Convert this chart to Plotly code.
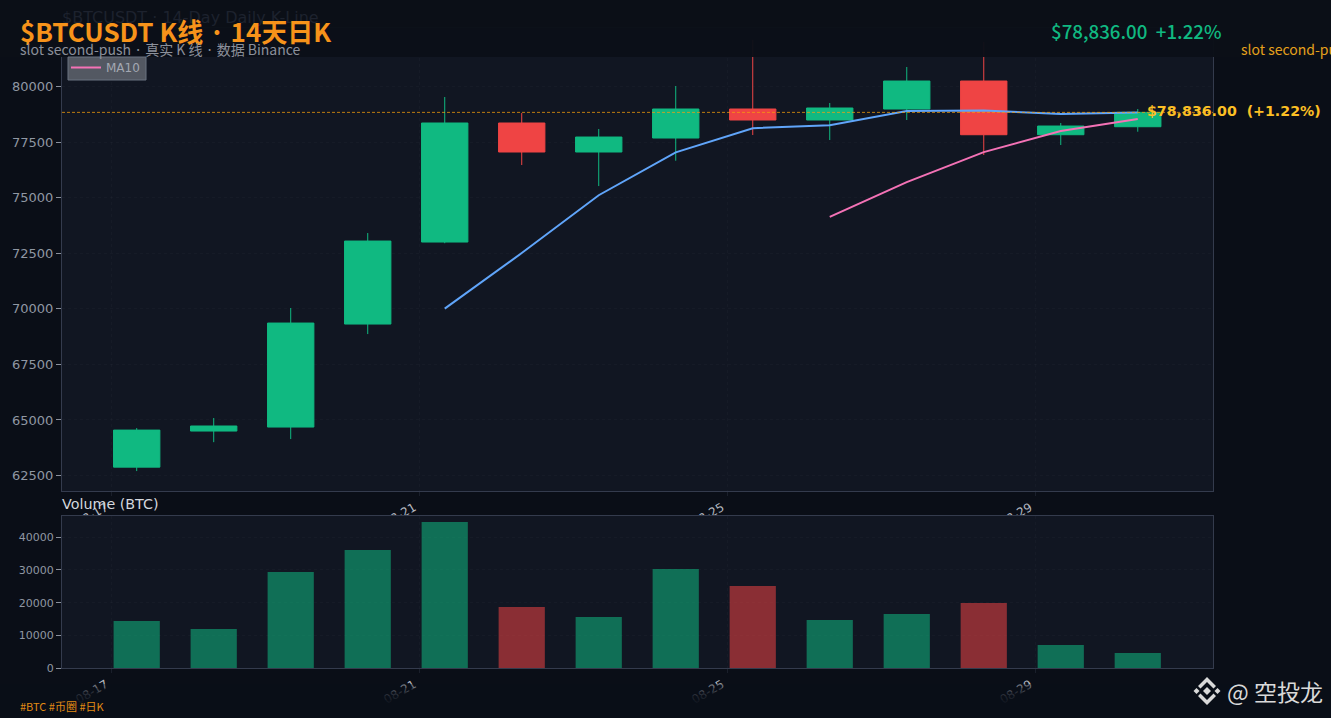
"""
BTCUSDT 14 day K line with MA5 / MA10 and a volume panel.
"""

import plotly.graph_objects as go
from plotly.subplots import make_subplots

dates = ['2025-08-17 08:00', '2025-08-18 08:00', '2025-08-19 08:00', '2025-08-20 08:00',
         '2025-08-21 08:00', '2025-08-22 08:00', '2025-08-23 08:00', '2025-08-24 08:00',
         '2025-08-25 08:00', '2025-08-26 08:00', '2025-08-27 08:00', '2025-08-28 08:00',
         '2025-08-29 08:00', '2025-08-30 08:00']
opens = [62877, 64500, 64680, 69313, 73003, 78358, 77053, 77682, 78988, 78493, 78988, 80247, 77831, 78191]
highs = [64633, 65087, 70035, 73408, 79527, 78807, 78088, 80022, 82100, 79258, 80877, 82000, 78358, 78988]
lows = [62700, 64000, 64140, 68863, 72950, 76468, 75522, 76661, 77818, 77593, 78493, 76918, 77368, 77966]
closes = [64543, 64727, 69358, 73048, 78358, 77053, 77727, 78988, 78493, 79033, 80247, 77831, 78222, 78836]
volumes = [14380, 11930, 29370, 36100, 44680, 18670, 15600, 30300, 25090, 14690, 16520, 19890, 7040, 4590]
ma5 = [None, None, None, None, 70006, 72508, 75109, 77035, 78124, 78259, 78898, 78918, 78765, 78834]
ma10 = [None, None, None, None, None, None, None, None, None, 74133, 75700, 77050, 78000, 78540]
last_price = 78836

price_ticks = [62500, 65000, 67500, 70000, 72500, 75000, 77500, 80000]
volume_ticks = [0, 10000, 20000, 30000, 40000]
date_ticks = ['2025-08-17', '2025-08-21', '2025-08-25', '2025-08-29']
date_labels = ['08-17', '08-21', '08-25', '08-29']
x_range = ['2025-08-16 08:43', '2025-08-31 07:27']
price_range = [61803, 82632]
volume_range = [0, 46670]

GREEN = '#10b981'
RED = '#ef4444'
ORANGE = '#f7931a'
GOLD = '#fbbf24'
BG = '#0a0e17'
PANEL = '#111622'
AXIS = '#343b4d'
GRID = 'rgba(255,255,255,0.022)'
TICK_TEXT = '#9097a3'
CJK = 'Noto Sans CJK JP'

W, H = 1331, 718
L, R, T, B = 62, 118, 28, 50
PW, PH = W - L - R, H - T - B


def px(x):
    return (x - L) / PW


def py(y):
    return 1 - (y - T) / PH


def note(x, y, text, color, size, family=CJK, weight=400):
    # annotations carry 2px of padding, take it off so x is where the glyphs start
    fig.add_annotation(xref='paper', yref='paper', x=px(x - 2), y=py(y), text=text, showarrow=False,
                       xanchor='left', yanchor='middle', align='left',
                       font=dict(color=color, size=size, family=family, weight=weight))


def polygon(points, cx, cy, flip=1):
    parts = [f'{px(cx + dx)} {py(cy + flip * dy)}' for dx, dy in points]
    return 'M ' + ' L '.join(parts) + ' Z'


fig = make_subplots(rows=2, cols=1)

fig.add_trace(go.Candlestick(x=dates, open=opens, high=highs, low=lows, close=closes,
                             increasing=dict(line=dict(color=GREEN, width=1), fillcolor=GREEN),
                             decreasing=dict(line=dict(color=RED, width=1), fillcolor=RED),
                             showlegend=False, name='K'), row=1, col=1)
fig.add_trace(go.Scatter(x=dates, y=ma5, mode='lines', name='MA5', showlegend=False,
                         line=dict(color='#60a5fa', width=2)), row=1, col=1)
fig.add_trace(go.Scatter(x=dates, y=ma10, mode='lines', name='MA10',
                         line=dict(color='#f472b6', width=2)), row=1, col=1)

bar_colors = ['rgba(16,185,129,0.55)' if c >= o else 'rgba(239,68,68,0.55)' for o, c in zip(opens, closes)]
fig.add_trace(go.Bar(x=dates, y=volumes, marker=dict(color=bar_colors, line=dict(width=0)),
                     width=0.6 * 86400000, showlegend=False, name='Volume'), row=2, col=1)

fig.update_layout(
    width=W, height=H, margin=dict(l=L, r=R, t=T, b=B),
    paper_bgcolor=BG, plot_bgcolor=PANEL, boxgap=0.14,
    font=dict(family='DejaVu Sans', color=TICK_TEXT),
    legend=dict(x=px(66), y=py(53), xanchor='left', yanchor='top', bgcolor='rgba(0,0,0,0)',
                borderwidth=0, font=dict(size=12, color='#a3a8b2')),
)
fig.update_xaxes(type='date', range=x_range, tickvals=date_ticks, ticktext=date_labels, tickangle=-30,
                 rangeslider_visible=False, showline=True, linecolor=AXIS, mirror=True,
                 gridcolor=GRID, griddash='dot', ticks='outside', ticklen=4, tickcolor='#1a1f2b',
                 ticklabelshift=-5, tickfont=dict(size=12, color='#b4b8c0'))
fig.update_yaxes(showline=True, linecolor=AXIS, mirror=True, gridcolor=GRID, griddash='dot',
                 ticks='outside', ticklen=5, tickcolor='#8a909c', zeroline=False)
fig.update_layout(
    xaxis=dict(domain=[0, 1]),
    xaxis2=dict(domain=[0, 1]),
    yaxis=dict(domain=[py(491), 1], range=price_range, tickvals=price_ticks, tickformat='d',
               tickfont=dict(size=13)),
    yaxis2=dict(domain=[0, py(515.5)], range=volume_range, tickvals=volume_ticks, tickformat='d',
                tickfont=dict(size=11)),
)

# lower panel sits over the tick labels of the upper one
fig.add_shape(type='rect', xref='x2', yref='y2', x0=x_range[0], x1=x_range[1],
              y0=volume_range[0], y1=volume_range[1], layer='below',
              fillcolor=PANEL, line=dict(width=0))

fig.add_shape(type='line', xref='x domain', yref='y', x0=0, x1=1, y0=last_price, y1=last_price,
              line=dict(color='rgba(245,158,11,0.75)', width=1, dash='3px,2px'))

# header band
fig.add_shape(type='rect', xref='paper', yref='paper', x0=px(0), x1=px(W), y0=py(57), y1=py(0),
              fillcolor='rgba(11,15,24,0.97)', line=dict(width=0))

# legend box, the legend itself is transparent on top of it
fig.add_shape(type='rect', xref='paper', yref='paper', x0=px(68), x1=px(146), y0=py(80), y1=py(57),
              fillcolor='rgba(120,124,134,0.65)', line=dict(color='#6b7280', width=1))

# bottom fade over the lower date labels
for top in [684, 688, 692, 696, 700]:
    fig.add_shape(type='rect', xref='paper', yref='paper', x0=px(0), x1=px(W), y0=py(H), y1=py(top),
                  fillcolor='rgba(10,14,23,0.42)', line=dict(width=0))

note(62, 17, '$BTCUSDT · 14-Day Daily K-Line', '#1d222e', 16, family='DejaVu Sans')
note(20, 30.5, '$BTCUSDT K线 · 14天日K', ORANGE, 26, weight=700)
note(20, 49, 'slot second-push · 真实 K 线 · 数据 Binance', '#8b909b', 14)
note(1051, 30, '$78,836.00  +1.22%', GREEN, 18.7, weight=500)
note(1241, 49, 'slot second-push', '#e5a11c', 14)
note(1147, 111, '$78,836.00  (+1.22%)', GOLD, 14.2, family='DejaVu Sans', weight=700)
note(62, 504, 'Volume (BTC)', '#d5d8de', 14.3, family='DejaVu Sans')
note(20, 706, '#BTC #币圈 #日K', '#e08a14', 11)
note(1227, 691, '@ 空投龙', '#d9d9d9', 23)

# binance mark
diamond = [(-4, 0), (0, -4), (4, 0), (0, 4)]
side = [(-3, 0), (0, -3), (3, 0), (0, 3)]
chevron = [(0, -14), (9, -5), (6.5, -2.5), (0, -9), (-6.5, -2.5), (-9, -5)]
for path in [polygon(diamond, 1207, 691), polygon(side, 1196.5, 691), polygon(side, 1217.5, 691),
             polygon(chevron, 1207, 691), polygon(chevron, 1207, 691, flip=-1)]:
    fig.add_shape(type='path', xref='paper', yref='paper', path=path,
                  fillcolor='#d9d9d9', line=dict(width=0))

fig.write_html('out.html', config=dict(displayModeBar=False),
               post_script="document.body.style.margin='0';document.body.style.background='#0a0e17';")
